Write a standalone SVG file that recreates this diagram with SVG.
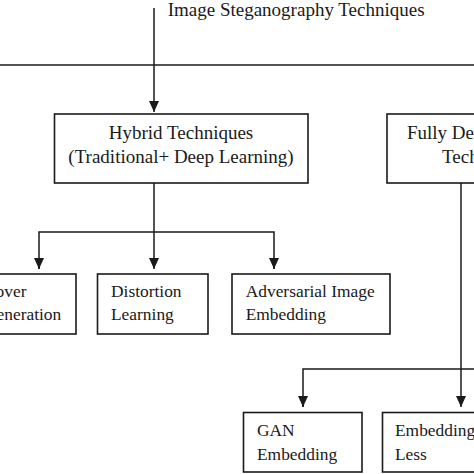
<svg xmlns="http://www.w3.org/2000/svg" width="474" height="474" viewBox="0 0 474 474">
<style>
.box{fill:#fff;stroke:#1a1a1a;stroke-width:1.6}
.ln{fill:none;stroke:#1a1a1a;stroke-width:1.5}
.t{font-family:"Liberation Serif","Times New Roman",serif;fill:#1a1a1a}
.t19{font-size:19px}
.t17{font-size:17.4px}
</style>
<defs>
<marker id="ah" markerUnits="userSpaceOnUse" markerWidth="10" markerHeight="11" viewBox="0 0 10 11" refX="5" refY="11" orient="0">
<path d="M0,0 L10,0 L5,11 Z" fill="#1a1a1a"/>
</marker>
</defs>
<rect width="474" height="474" fill="#fff"/>
<g id="connectors">
<line class="ln" x1="0" y1="65" x2="474" y2="65"/>
<line class="ln" x1="154" y1="8" x2="154" y2="112" marker-end="url(#ah)"/>
<line class="ln" x1="154" y1="183" x2="154" y2="269" marker-end="url(#ah)"/>
<polyline class="ln" points="39,269 39,232 274,232 274,269"/>
<line class="ln" x1="39" y1="260" x2="39" y2="269" marker-end="url(#ah)"/>
<line class="ln" x1="274" y1="260" x2="274" y2="269" marker-end="url(#ah)"/>
<line class="ln" x1="461" y1="183" x2="461" y2="407" marker-end="url(#ah)"/>
<polyline class="ln" points="303,407 303,369 480,369"/>
<line class="ln" x1="303" y1="398" x2="303" y2="407" marker-end="url(#ah)"/>
</g>
<g id="title">
<text class="t t19" x="167.7" y="16">Image Steganography Techniques</text>
</g>
<g id="hybrid">
<rect class="box" x="54.5" y="114" width="253.5" height="69"/>
<text class="t t19" x="181" y="138.5" text-anchor="middle">Hybrid Techniques</text>
<text class="t t19" x="181" y="163" text-anchor="middle">(Traditional+ Deep Learning)</text>
</g>
<g id="fully-deep">
<rect class="box" x="387" y="114" width="200" height="69"/>
<text class="t t19" x="407" y="138.5">Fully Deep Learning</text>
<text class="t t19" x="442" y="163">Techniques</text>
</g>
<g id="cover-generation">
<rect class="box" x="-30" y="274" width="106" height="60"/>
<text class="t t17" x="-16" y="297">Cover</text>
<text class="t t17" x="-16" y="320">Generation</text>
</g>
<g id="distortion-learning">
<rect class="box" x="97.5" y="274" width="110.5" height="60"/>
<text class="t t17" x="111" y="297">Distortion</text>
<text class="t t17" x="111" y="320">Learning</text>
</g>
<g id="adversarial-embedding">
<rect class="box" x="232" y="274" width="158" height="60"/>
<text class="t t17" x="245.7" y="297">Adversarial Image</text>
<text class="t t17" x="245.7" y="320">Embedding</text>
</g>
<g id="gan-embedding">
<rect class="box" x="243.5" y="412.5" width="118.5" height="59.5"/>
<text class="t t17" x="257" y="436">GAN</text>
<text class="t t17" x="257" y="460">Embedding</text>
</g>
<g id="embedding-less">
<rect class="box" x="382.5" y="412.5" width="120" height="59.5"/>
<text class="t t17" x="395" y="436">Embedding</text>
<text class="t t17" x="395" y="460">Less</text>
</g>
</svg>
